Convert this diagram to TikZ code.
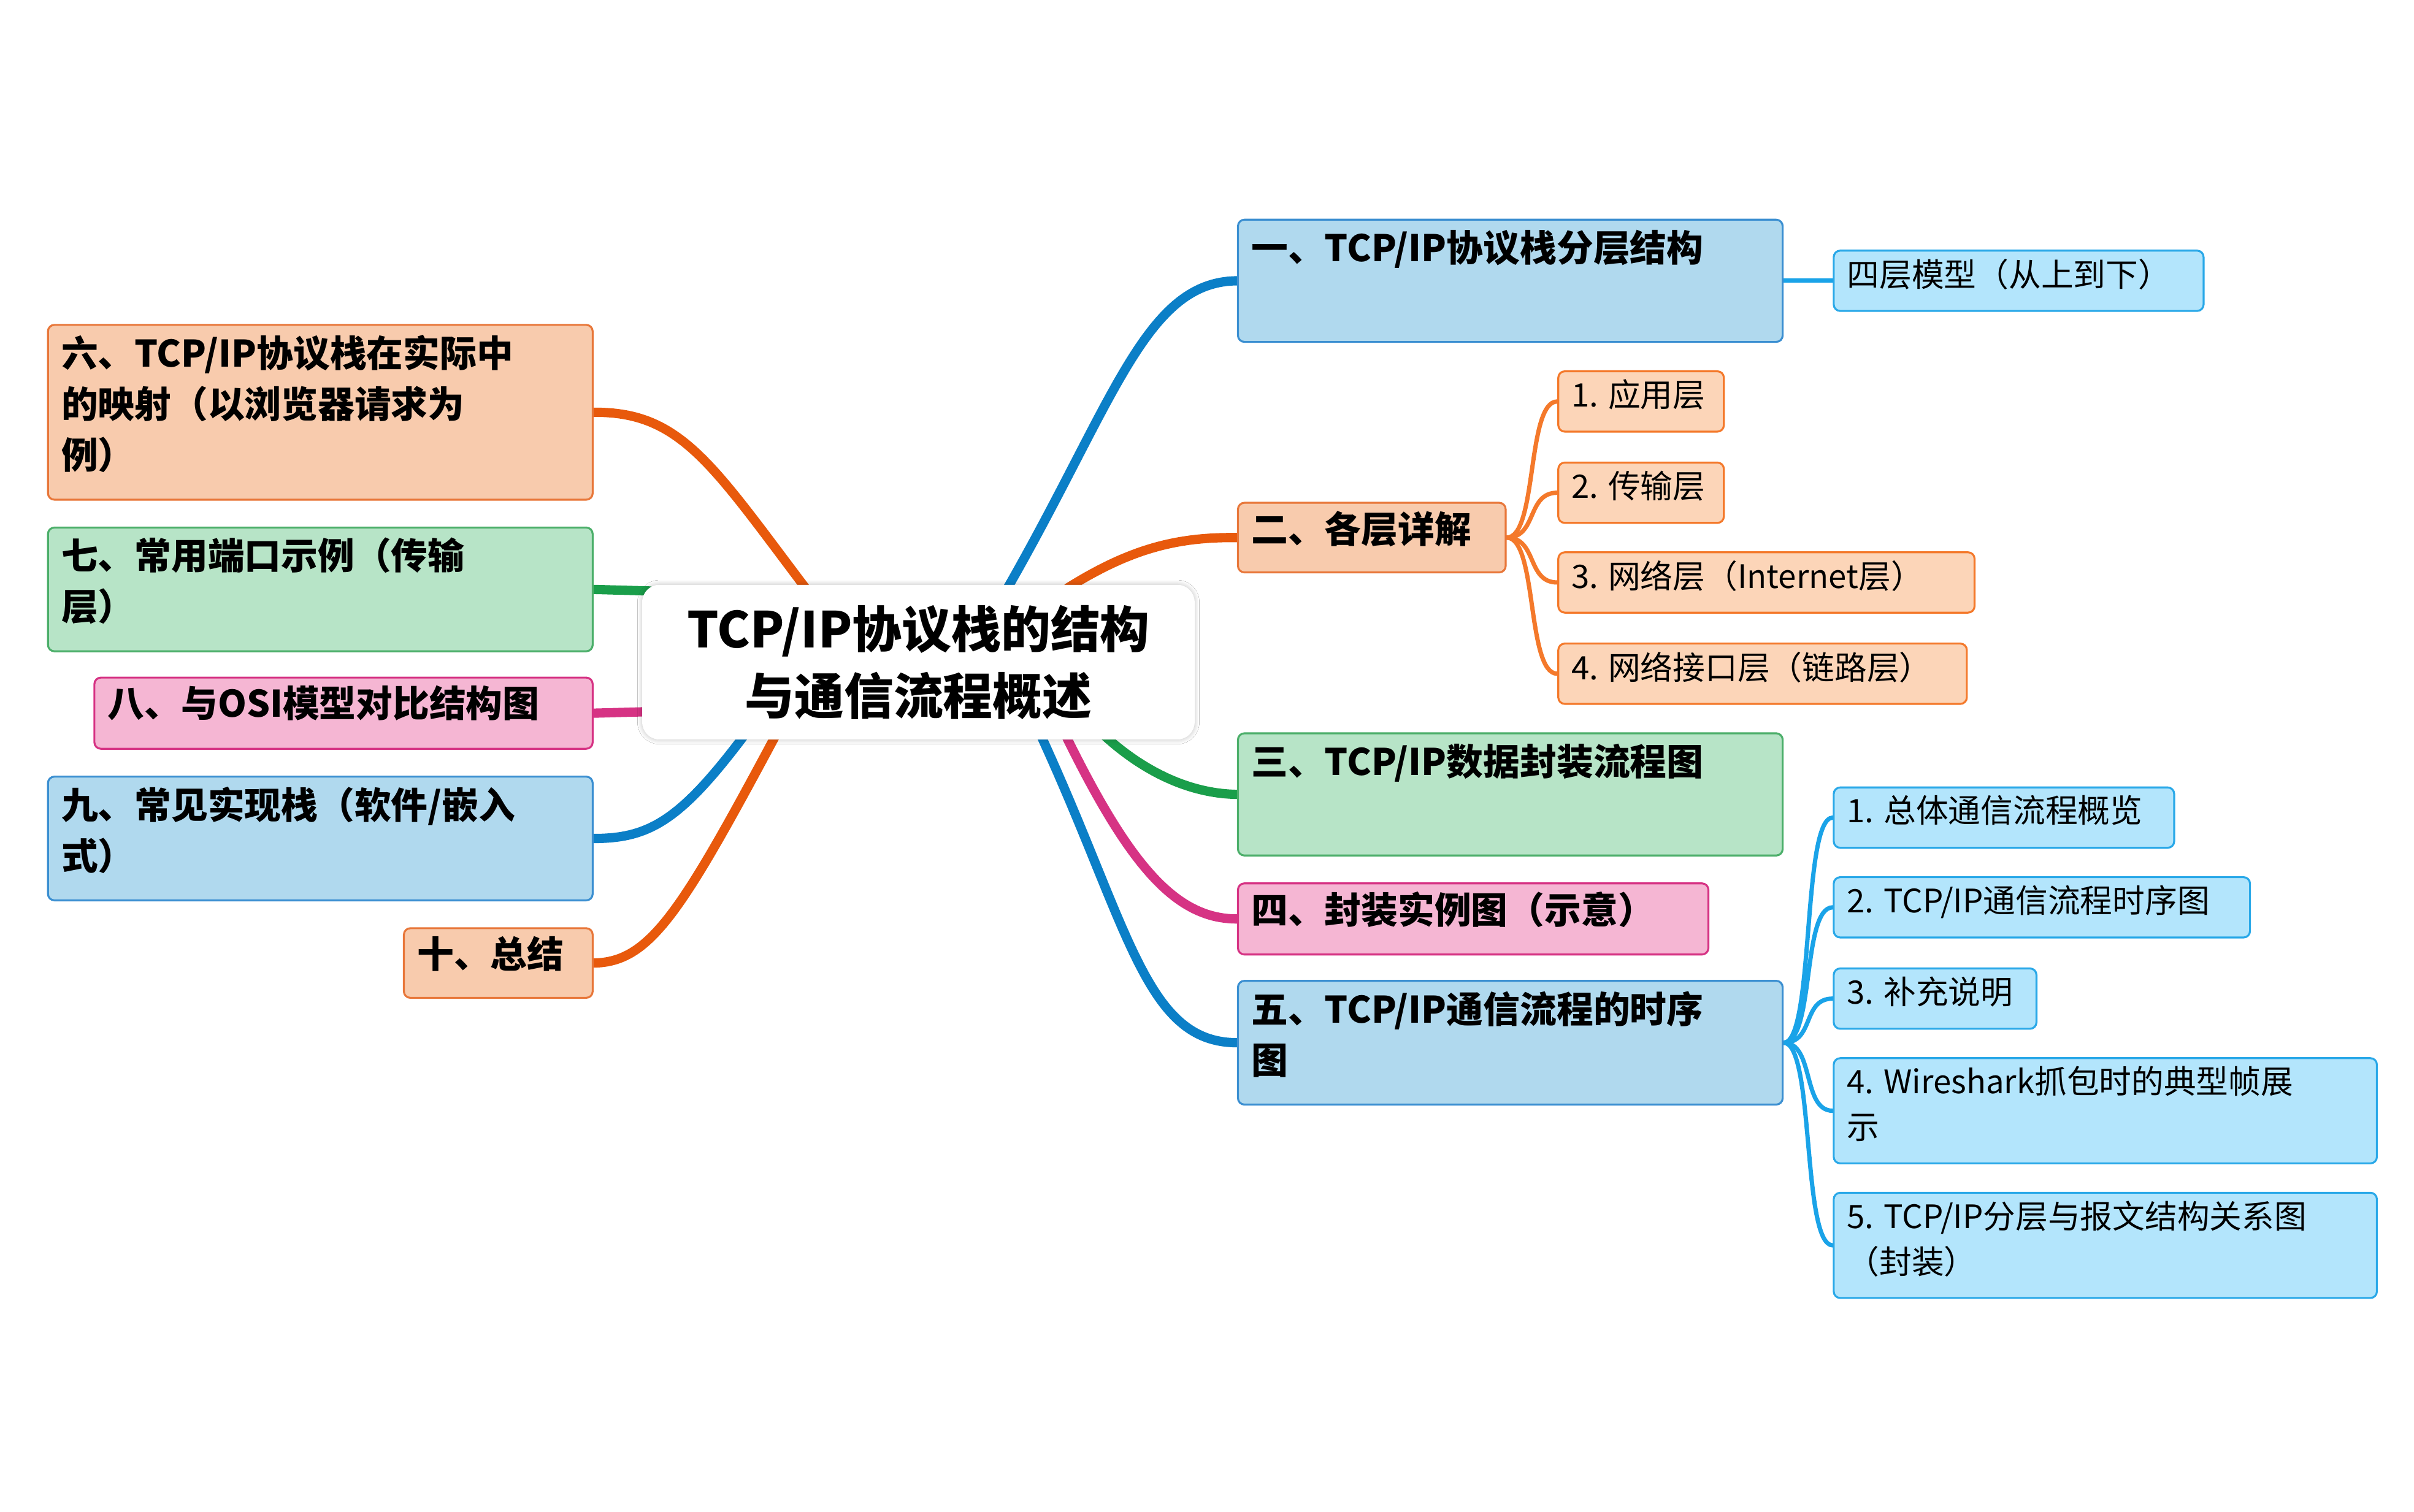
\documentclass[tikz,border=0pt]{standalone}
\usepackage{fontspec}
\setmainfont{Noto Sans CJK SC}
\usetikzlibrary{fit,shadows.blur,backgrounds}
\definecolor{bF}{HTML}{B0D9EE}\definecolor{bD}{HTML}{3B8FD1}
\definecolor{oF}{HTML}{F8CBAD}\definecolor{oD}{HTML}{E8773A}
\definecolor{gF}{HTML}{B7E4C7}\definecolor{gD}{HTML}{4CAF6A}
\definecolor{pF}{HTML}{F5B6D3}\definecolor{pD}{HTML}{D63384}
\definecolor{lF}{HTML}{B3E5FC}\definecolor{lD}{HTML}{29A8E8}
\definecolor{cF}{HTML}{FCD5B8}\definecolor{cD}{HTML}{F4792B}
\definecolor{eB}{HTML}{0B7FC7}\definecolor{eO}{HTML}{E8590C}
\definecolor{eG}{HTML}{1A9E4A}\definecolor{eP}{HTML}{D63384}
\definecolor{eL}{HTML}{1AA3E8}\definecolor{eC}{HTML}{F4792B}
\newcommand\mybox[8]{%
 \coordinate (#1-a) at (#2,#3);\coordinate (#1-b) at (#4,#5);
 \node[fit=(#1-a)(#1-b),inner sep=0,rounded corners=3pt,line width=0.9pt,#6] (#1) {};
 \node[anchor=north west,inner sep=0pt,align=left,#7] (#1-t) at ([xshift=9*0.02523cm,yshift=-7*0.02523cm]#1.north west) {#8};}
\tikzset{
 big/.style={font=\fontsize{17}{23.6}\selectfont\bfseries},
 sm/.style={font=\fontsize{15}{21}\selectfont},
 br/.style={line width=4.3pt,line cap=round},
 ch/.style={line width=2pt,line cap=round}}
\begin{document}
\begin{tikzpicture}[x=0.02523cm,y=-0.02523cm]
\useasboundingbox (0,0) rectangle (1560,977);
% central
\coordinate (c-a) at (415,378);\coordinate (c-b) at (772,478);
\node[fit=(c-a)(c-b),inner sep=0,rounded corners=8pt,fill=white,blur shadow={shadow blur steps=8,shadow xshift=0pt,shadow yshift=0pt,shadow opacity=25}] (c) {};
\node[align=center,font=\fontsize{23}{31}\selectfont\bfseries] (c-t) at (c.center) {TCP/IP协议栈的结构\\与通信流程概述};
% right side
\mybox{n1}{800}{142}{1152}{221}{draw=bD,fill=bF}{big}{一、TCP/IP协议栈分层结构}
\mybox{n1a}{1185}{162}{1424}{201}{draw=lD,fill=lF}{sm,yshift=1}{四层模型（从上到下）}
\mybox{n2}{800}{325}{973}{370}{draw=oD,fill=oF}{big,yshift=1}{二、各层详解}
\mybox{n21}{1007}{240}{1114}{279}{draw=cD,fill=cF}{sm,yshift=1}{1. 应用层}
\mybox{n22}{1007}{299}{1114}{338}{draw=cD,fill=cF}{sm,yshift=1}{2. 传输层}
\mybox{n23}{1007}{357}{1276}{396}{draw=cD,fill=cF}{sm,yshift=1}{3. 网络层（Internet层）}
\mybox{n24}{1007}{416}{1271}{455}{draw=cD,fill=cF}{sm,yshift=1}{4. 网络接口层（链路层）}
\mybox{n3}{800}{474}{1152}{553}{draw=gD,fill=gF}{big}{三、TCP/IP数据封装流程图}
\mybox{n4}{800}{571}{1104}{617}{draw=pD,fill=pF}{big,yshift=1}{四、封装实例图（示意）}
\mybox{n5}{800}{634}{1152}{714}{draw=bD,fill=bF}{big}{五、TCP/IP通信流程的时序\\图}
\mybox{n51}{1185}{509}{1405}{548}{draw=lD,fill=lF}{sm,yshift=1}{1. 总体通信流程概览}
\mybox{n52}{1185}{567}{1454}{606}{draw=lD,fill=lF}{sm,yshift=1}{2. TCP/IP通信流程时序图}
\mybox{n53}{1185}{626}{1316}{665}{draw=lD,fill=lF}{sm,yshift=1}{3. 补充说明}
\mybox{n54}{1185}{684}{1536}{752}{draw=lD,fill=lF}{sm,yshift=1}{4. Wireshark抓包时的典型帧展\\示}
\mybox{n55}{1185}{771}{1536}{839}{draw=lD,fill=lF}{sm,yshift=1}{5. TCP/IP分层与报文结构关系图\\（封装）}
% left side
\mybox{n6}{31}{210}{383}{323}{draw=oD,fill=oF}{big}{六、TCP/IP协议栈在实际中\\的映射（以浏览器请求为\\例）}
\mybox{n7}{31}{341}{383}{421}{draw=gD,fill=gF}{big}{七、常用端口示例（传输\\层）}
\mybox{n8}{61}{438}{383}{484}{draw=pD,fill=pF}{big,yshift=1}{八、与OSI模型对比结构图}
\mybox{n9}{31}{502}{383}{582}{draw=bD,fill=bF}{big}{九、常见实现栈（软件/嵌入\\式）}
\mybox{n10}{261}{600}{383}{645}{draw=oD,fill=oF}{big,yshift=1}{十、总结}
\begin{scope}[on background layer]
\fill[white] (0,0) rectangle (1560,977);
\coordinate (s1) at (650,382);\coordinate (s2) at (690,380);\coordinate (s3) at (712,474);
\coordinate (s4) at (688,474);\coordinate (s5) at (672,474);\coordinate (s6) at (522,382);
\coordinate (s7) at (420,382);\coordinate (s8) at (420,460);\coordinate (s9) at (482,474);
\coordinate (s10) at (502,474);
\draw[br,eB] (s1) .. controls (720,260) and (740,182) .. (n1.west);
\draw[br,eO] (s2) .. controls (730,355) and (760,347) .. (n2.west);
\draw[br,eG] (s3) .. controls (740,500) and (770,513) .. (n3.west);
\draw[br,eP] (s4) .. controls (730,560) and (760,594) .. (n4.west);
\draw[br,eB] (s5) .. controls (730,600) and (740,674) .. (n5.west);
\draw[br,eO] (s6) .. controls (460,300) and (440,266) .. (n6.east);
\draw[br,eG] (s7) -- (n7.east);
\draw[br,eP] (s8) -- (n8.east);
\draw[br,eB] (s9) .. controls (440,530) and (420,542) .. (n9.east);
\draw[br,eO] (s10) .. controls (440,590) and (420,622) .. (n10.east);
\draw[ch,eL] (n1.east) -- (n1a.west);
\foreach \k in {n21,n22,n23,n24}
  \draw[ch,eC] (n2.east) .. controls +(20,0) and +(-20,0) .. (\k.west);
\foreach \k in {n51,n52,n53,n54,n55}
  \draw[ch,eL] (n5.east) .. controls +(20,0) and +(-20,0) .. (\k.west);
\end{scope}
\end{tikzpicture}
\end{document}
